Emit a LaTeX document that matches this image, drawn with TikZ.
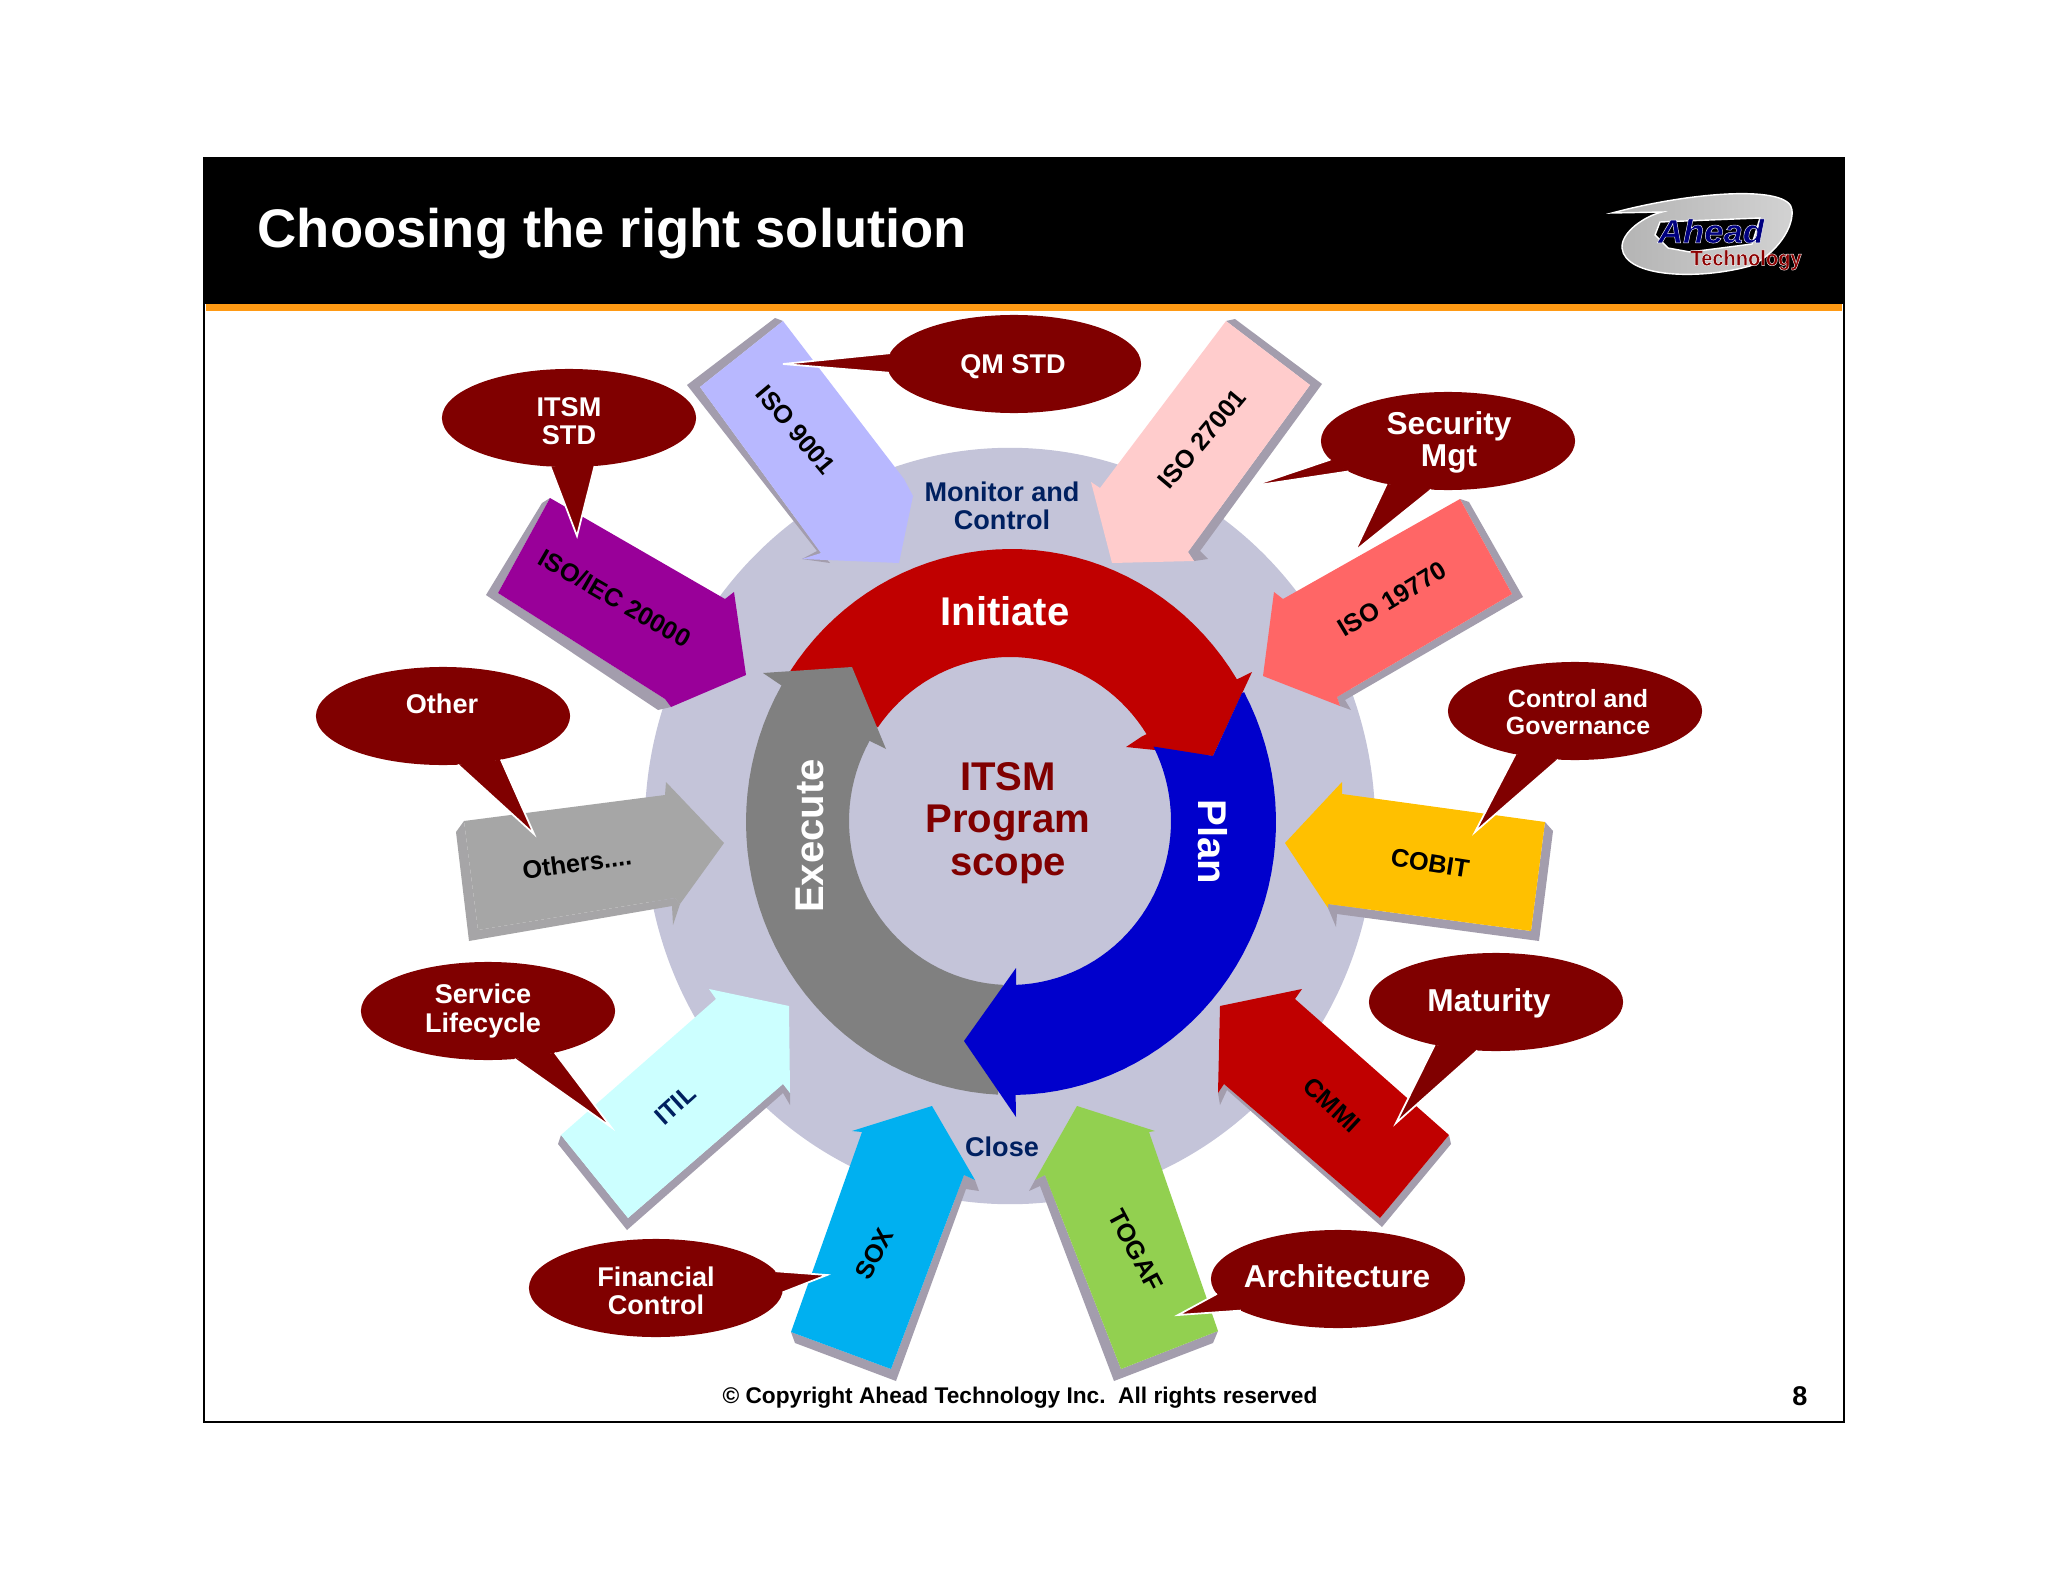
\documentclass[tikz,border=0pt]{standalone}
\usepackage{fontspec}
\setmainfont{Liberation Sans}
\usepackage{xcolor}
\usepackage{tikz}
\usetikzlibrary{shapes.geometric}
\definecolor{cloudred}{HTML}{800000}
\definecolor{discgrey}{HTML}{C4C4D9}
\definecolor{shadowgrey}{HTML}{A39DAD}
\definecolor{navytext}{HTML}{002060}
\definecolor{ringred}{HTML}{C00000}
\definecolor{ringblue}{HTML}{0000CC}
\definecolor{ringgrey}{HTML}{808080}
\definecolor{headerorange}{HTML}{FF9A14}
\definecolor{isolilac}{HTML}{B8B8FF}
\definecolor{isopurple}{HTML}{990099}
\definecolor{isopink}{HTML}{FFCCCC}
\definecolor{isosalmon}{HTML}{FF6666}
\definecolor{cobitgold}{HTML}{FFC000}
\definecolor{togafgreen}{HTML}{92D050}
\definecolor{soxblue}{HTML}{00B0F0}
\definecolor{itilcyan}{HTML}{CCFFFF}
\definecolor{othersgrey}{HTML}{A6A6A6}
\tikzstyle{callout} = [ellipse, fill=cloudred, inner sep=0pt, outer sep=0pt,
    minimum width=2.54cm, minimum height=0.98cm]
\tikzstyle{calltext} = [text=white, align=center, inner sep=0pt, font=\bfseries\fontsize{7.7}{8}\selectfont]
\tikzstyle{bigcalltext} = [calltext, font=\bfseries\fontsize{9}{9.1}\selectfont]
\tikzstyle{smallcalltext} = [calltext, font=\bfseries\fontsize{7.1}{7.6}\selectfont]
\tikzstyle{tail} = [fill=cloudred, draw=white, line width=0.5pt]
\tikzstyle{backing} = [fill=shadowgrey]
\tikzstyle{arrowlabel} = [inner sep=0pt, font=\bfseries\fontsize{7.2}{8}\selectfont]
\tikzstyle{ringlabel} = [text=white, inner sep=0pt, font=\bfseries\fontsize{11.4}{12}\selectfont]
\tikzstyle{phase} = [text=navytext, align=center, inner sep=0pt, font=\bfseries\fontsize{7.7}{8}\selectfont]
\newcommand{\logoedge}[1]{\special{pdf:code 2 Tr 0.12 w 1 1 1 RG}#1\special{pdf:code 0 Tr}}
\begin{document}
\begin{tikzpicture}[x=0.01cm, y=-0.01cm,
    declare function={ox(\t)=1011+265*cos(\t); oy(\t)=822+273*sin(\t);
                      ix(\t)=1010+161*cos(\t); iy(\t)=821+164*sin(\t);}]
	\useasboundingbox (0,0) rectangle (2048,1582);
	% Slide frame
	\fill [white] (0,0) rectangle (2048,1582);
	\fill [black] (204,158) rectangle (1844,304);
	\fill [headerorange] (206,304) rectangle (1842,311);
	\draw [black, line width=0.7pt] (204,158) rectangle (1844,1422);
	\node [anchor=west, text=white, inner sep=0pt, font=\bfseries\fontsize{15.45}{16}\selectfont] (title) at (257,234) {Choosing the right solution};
	% Logo
	\path [draw=white, line width=0.4pt, left color=gray!60, right color=gray!35, even odd rule]
		(1612,213) .. controls (1690,192) and (1790,184) .. (1792,210) .. controls (1794,232) and (1770,258) .. (1750,266)
		.. controls (1700,280) and (1625,278) .. (1622,248) .. controls (1621,232) and (1645,216) .. (1662,212) -- cycle
		(1660,222) -- (1760,218) -- (1752,244) -- (1690,252) -- (1668,248) -- (1655,235) -- cycle;
	\node [text=blue!50!black, inner sep=0pt, xscale=1.05, transform shape, font=\bfseries\itshape\fontsize{9.4}{10}\selectfont] (logoahead) at (1711,231) {\logoedge{Ahead}};
	\node [text=red!55!black, inner sep=0pt, xscale=0.92, transform shape, font=\bfseries\fontsize{6.2}{7}\selectfont] (logotech) at (1746,260) {\logoedge{Technology}};
	% Disc behind everything
	\node [ellipse, fill=discgrey, minimum width=7.3cm, minimum height=7.56cm, inner sep=0pt] (disc) at (1010,826) {};
	% Arrows with their backing
	\path [backing] (783,321) -- (775,318) -- (687,385) -- (817,551) -- (802,559) -- (830,563) -- (821,553) -- (700,387) -- cycle;
	\path [fill=isolilac] (783,321) -- (904,479) -- (913,496) -- (899,563) -- (802,559) -- (821,553) -- (700,387) -- cycle;
	\path [backing] (550,498) -- (542,503) -- (486,595) -- (658,710) -- (671,707) -- (665,699) -- (498,593) -- cycle;
	\path [fill=isopurple] (550,498) -- (725,599) -- (734,592) -- (746,675) -- (671,707) -- (665,699) -- (498,593) -- cycle;
	\path [backing] (1226,321) -- (1235,319) -- (1322,384) -- (1200,551) -- (1208,559) -- (1194,561) -- (1188,552) -- (1310,385) -- cycle;
	\path [fill=isopink] (1226,321) -- (1310,385) -- (1188,552) -- (1194,561) -- (1112,563) -- (1091,482) -- (1100,488) -- cycle;
	\path [backing] (1460,499) -- (1469,502) -- (1523,597) -- (1345,700) -- (1351,710) -- (1340,706) -- (1337,697) -- (1512,594) -- cycle;
	\path [fill=isosalmon] (1460,499) -- (1512,594) -- (1337,697) -- (1340,706) -- (1263,676) -- (1274,592) -- (1283,599) -- cycle;
	\path [backing] (1545,822) -- (1553,831) -- (1539,941) -- (1337,914) -- (1336,927) -- (1328,908) -- (1328,904) -- (1531,931) -- cycle;
	\path [fill=cobitgold] (1285,843) -- (1342,782) -- (1342,794) -- (1545,822) -- (1531,931) -- (1328,904) -- (1328,908) -- cycle;
	\path [backing] (1449,1135) -- (1451,1144) -- (1382,1227) -- (1227,1090) -- (1220,1105) -- (1218,1093) -- (1224,1084) -- (1380,1218) -- cycle;
	\path [fill=ringred] (1220,1006) -- (1302,989) -- (1295,999) -- (1449,1135) -- (1380,1218) -- (1224,1084) -- (1218,1093) -- cycle;
	\path [backing] (1035,1180) -- (1029,1191) -- (1040,1186) -- (1114,1381) -- (1213,1343) -- (1218,1331) -- (1121,1369) -- (1045,1175) -- cycle;
	\path [fill=togafgreen] (1077,1106) -- (1155,1131) -- (1149,1132) -- (1218,1331) -- (1121,1369) -- (1045,1175) -- (1035,1180) -- cycle;
	\path [backing] (975,1180) -- (979,1191) -- (966,1189) -- (896,1381) -- (795,1343) -- (791,1332) -- (891,1369) -- (964,1175) -- cycle;
	\path [fill=soxblue] (932,1106) -- (852,1131) -- (862,1132) -- (791,1332) -- (891,1369) -- (964,1175) -- (975,1180) -- cycle;
	\path [backing] (561,1135) -- (558,1144) -- (627,1230) -- (783,1093) -- (790,1105) -- (790,1093) -- (783,1084) -- (628,1218) -- cycle;
	\path [fill=itilcyan] (789,1006) -- (709,989) -- (716,999) -- (561,1135) -- (628,1218) -- (783,1084) -- (790,1093) -- cycle;
	\path [fill=othersgrey!90!shadowgrey] (464,821) -- (456,832) -- (469,941) -- (672,906) -- (673,925) -- (680,904) -- (675,898) -- (478,930) -- cycle;
	\path [fill=othersgrey] (464,821) -- (665,795) -- (666,782) -- (724,843) -- (680,904) -- (675,898) -- (478,930) -- cycle;
	% Ring
	\path [fill=ringred] (788,672) -- plot [domain=213.3:328.5, samples=40] ({ox(\x)},{oy(\x)}) -- (1252,672) -- (1213,756) -- (1126,747) -- (1141,737) -- plot [domain=328:214.8, samples=40] ({ix(\x)},{iy(\x)}) -- cycle;
	\path [fill=ringgrey] (763,673) -- (852,667) -- (886,749) -- (870,741) -- plot [domain=209.3:92.5, samples=40] ({ix(\x)},{iy(\x)}) -- plot [domain=92.8:210, samples=40] ({ox(\x)},{oy(\x)}) -- cycle;
	\path [fill=ringblue] (1242,693) -- plot [domain=331.6:449, samples=40] ({ox(\x)},{oy(\x)}) -- (1016,1117) -- (964,1041) -- (1016,968) -- (1016,986) -- plot [domain=448:333, samples=40] ({ix(\x)},{iy(\x)}) -- (1213,756) -- cycle;
	% Labels on the ring
	\node [ringlabel] (initiate) at (1005,611) {Initiate};
	\node [ringlabel, rotate=90] (execute) at (810,836) {Execute};
	\node [ringlabel, rotate=-90] (plan) at (1213,842) {Plan};
	\node [text=cloudred, align=center, inner sep=0pt, font=\bfseries\fontsize{11.4}{12.1}\selectfont] (scope) at (1008,823) {ITSM\\Program\\scope};
	\node [phase] (monitor) at (1002,506) {Monitor and\\Control};
	\node [phase] (close) at (1002,1147) {Close};
	% Labels on the arrows
	\node [arrowlabel, rotate=-50] (iso9001) at (796,430) {ISO 9001};
	\node [arrowlabel, rotate=-30] (isoiec) at (615,598) {ISO/IEC 20000};
	\node [arrowlabel, rotate=50] (iso27001) at (1202,439) {ISO 27001};
	\node [arrowlabel, rotate=31] (iso19770) at (1392,599) {ISO 19770};
	\node [arrowlabel, rotate=-9] (cobit) at (1430,863) {COBIT};
	\node [arrowlabel, rotate=-43] (cmmi) at (1332,1105) {CMMI};
	\node [arrowlabel, rotate=-62] (togaf) at (1136,1250) {TOGAF};
	\node [arrowlabel, rotate=62] (sox) at (874,1254) {SOX};
	\node [arrowlabel, rotate=42, text=navytext] (itil) at (675,1105) {ITIL};
	\node [arrowlabel, rotate=8] (others) at (577,863) {Others....};
	% Callouts
	\node [callout] (qmstd) at (1014,364) {};
	\node [callout] (itsmstd) at (569,418) {};
	\node [callout] (other) at (443,716) {};
	\node [callout] (security) at (1448,441) {};
	\node [callout] (control) at (1575,711) {};
	\node [callout] (maturity) at (1496,1002) {};
	\node [callout] (architecture) at (1338,1279) {};
	\node [callout] (financial) at (656,1288) {};
	\node [callout] (service) at (488,1011) {};
	\node [calltext] (qmtext) at (1013,367) {QM STD};
	\node [calltext] (itsmtext) at (569,421) {ITSM\\STD};
	\node [calltext] (othertext) at (442,704) {Other};
	\node [bigcalltext] (securitytext) at (1449,442) {Security\\Mgt};
	\node [smallcalltext] (controltext) at (1578,712) {Control and\\Governance};
	\node [bigcalltext] (maturitytext) at (1489,1003) {Maturity};
	\node [bigcalltext] (architecturetext) at (1337,1276) {Architecture};
	\node [calltext] (financialtext) at (656,1291) {Financial\\Control};
	\node [calltext] (servicetext) at (483,1011) {Service\\Lifecycle};
	% Tails of the callouts
	\coordinate (qmtip) at (783,364);
	\coordinate (itsmtip) at (577,536);
	\coordinate (othertip) at (534,834);
	\coordinate (securitytipa) at (1252,486);
	\coordinate (securitytipb) at (1355,551);
	\coordinate (controltip) at (1475,832);
	\coordinate (maturitytip) at (1396,1123);
	\coordinate (architecturetip) at (1178,1315);
	\coordinate (financialtip) at (827,1275);
	\coordinate (servicetip) at (611,1127);
	\path [tail] (qmstd.175.5) -- (qmtip) -- (qmstd.184.5);
	\path [tail] (itsmstd.-111) -- (itsmtip) -- (itsmstd.-62);
	\path [tail] (other.-73) -- (othertip) -- (other.-37);
	\path [tail] (security.189) -- (securitytipa) -- (security.197);
	\path [tail] (security.-145) -- (securitytipb) -- (security.-109);
	\path [tail] (control.-144) -- (controltip) -- (control.-109);
	\path [tail] (maturity.-145) -- (maturitytip) -- (maturity.-111);
	\path [tail] (architecture.187) -- (architecturetip) -- (architecture.198);
	\path [tail] (financial.8) -- (financialtip) -- (financial.-2);
	\path [tail] (service.-61) -- (servicetip) -- (service.-32);
	% Footer
	\node [inner sep=0pt, font=\bfseries\fontsize{6.45}{7}\selectfont] (copyright) at (1020,1398) {© Copyright Ahead Technology Inc.\ \ All rights reserved};
	\node [inner sep=0pt, font=\bfseries\fontsize{7.7}{8}\selectfont] (pagenum) at (1800,1396) {8};
\end{tikzpicture}
\end{document}
